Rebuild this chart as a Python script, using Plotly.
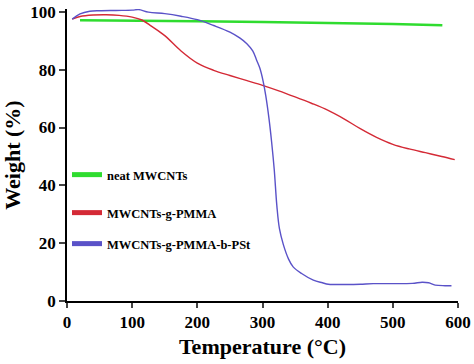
import plotly.graph_objects as go

# Neat MWCNTs
temp_neat = [20, 100, 200, 300, 400, 500, 576]
wt_neat = [97.1, 97.0, 96.8, 96.5, 96.2, 95.8, 95.4]

# MWCNTs-g-PMMA
temp_pmma = [8, 20, 40, 60, 80, 100, 115, 130, 150, 175, 200, 225, 250, 275, 300, 325, 350, 375, 400, 425, 450, 475, 500, 525, 550, 575, 595]
wt_pmma = [97.5, 98.4, 98.9, 99.0, 98.8, 98.2, 97.2, 95.0, 91.8, 86.5, 82.3, 79.8, 78.0, 76.3, 74.6, 72.7, 70.6, 68.4, 66.0, 63.0, 59.6, 56.6, 54.2, 52.6, 51.3, 50.0, 48.9]

# MWCNTs-g-PMMA-b-PSt
temp_pst = [8, 20, 35, 50, 75, 100, 110, 125, 150, 175, 200, 225, 250, 265, 276, 285, 291, 296, 301, 305, 310, 314, 318, 322, 326, 332, 340, 347, 360, 378, 392, 401, 410, 430, 450, 470, 500, 530, 545, 555, 565, 580, 590]
wt_pst = [97.5, 99.3, 100.2, 100.4, 100.5, 100.6, 100.8, 99.9, 99.4, 98.5, 97.3, 95.3, 93.0, 91.0, 89.0, 86.5, 83.3, 80.5, 76.0, 71.0, 63.0, 55.0, 45.5, 33.0, 25.0, 19.5, 14.5, 11.8, 9.5, 7.2, 6.3, 5.8, 5.7, 5.7, 5.8, 6.0, 6.0, 6.1, 6.5, 6.3, 5.5, 5.3, 5.3]

labels = ["neat MWCNTs", "MWCNTs-g-PMMA", "MWCNTs-g-PMMA-b-PSt"]
colors = ["#2fdc2f", "#d42a36", "#5a52c8"]
legend_ids = ["legend", "legend2", "legend3"]

x_ticks = [0, 100, 200, 300, 400, 500, 600]
y_ticks = [0, 20, 40, 60, 80, 100]

FONT = "Liberation Serif, Times New Roman, serif"

fig = go.Figure()
fig.add_trace(go.Scatter(x=temp_neat, y=wt_neat, mode="lines", line=dict(color=colors[0], width=2.5), showlegend=False))
fig.add_trace(go.Scatter(x=temp_pmma, y=wt_pmma, mode="lines", line=dict(color=colors[1], width=1.4, shape="spline"), showlegend=False))
fig.add_trace(go.Scatter(x=temp_pst, y=wt_pst, mode="lines", line=dict(color=colors[2], width=1.4, shape="spline"), showlegend=False))

# legend-only entries with thick swatches
for lab, col, lid in zip(labels, colors, legend_ids):
    fig.add_trace(go.Scatter(x=[None], y=[None], mode="lines", name=lab,
                             line=dict(color=col, width=5), legend=lid))

plot_top, plot_bottom = 9, 301
ph = plot_bottom - plot_top
leg_y_px = [175, 213, 244]

def leg(py):
    return dict(x=0.0, xanchor="left", y=(plot_bottom - py) / ph, yanchor="middle",
                bgcolor="rgba(0,0,0,0)", borderwidth=0, itemwidth=30,
                font=dict(family=FONT, size=12.5, color="black", weight="bold"))

fig.update_layout(
    width=474, height=364,
    margin=dict(l=67, r=16, t=plot_top, b=364 - plot_bottom, autoexpand=False),
    paper_bgcolor="white", plot_bgcolor="white",
    font=dict(family=FONT, color="black"),
    legend=leg(leg_y_px[0]), legend2=leg(leg_y_px[1]), legend3=leg(leg_y_px[2]),
    xaxis=dict(range=[0, 600], tickvals=x_ticks, ticks="outside", ticklen=5, tickwidth=1.5,
               showline=True, linecolor="black", linewidth=1.5, showgrid=False, zeroline=False,
               automargin=False,
               tickfont=dict(family=FONT, size=17, color="black", weight="bold"),
               title=dict(text="Temperature (°C)", font=dict(family=FONT, size=22, color="black", weight="bold"), standoff=7)),
    yaxis=dict(range=[0, 101], tickvals=y_ticks, ticks="outside", ticklen=6, tickwidth=1.5,
               showline=True, linecolor="black", linewidth=1.5, showgrid=False, zeroline=False,
               automargin=False,
               tickfont=dict(family=FONT, size=17, color="black", weight="bold"),
               title=dict(text="Weight (%)", font=dict(family=FONT, size=22, color="black", weight="bold"), standoff=6)),
)

fig.write_html("out.html", config={"displayModeBar": False},
               post_script="document.body.style.margin='0';document.body.style.overflow='hidden';")
